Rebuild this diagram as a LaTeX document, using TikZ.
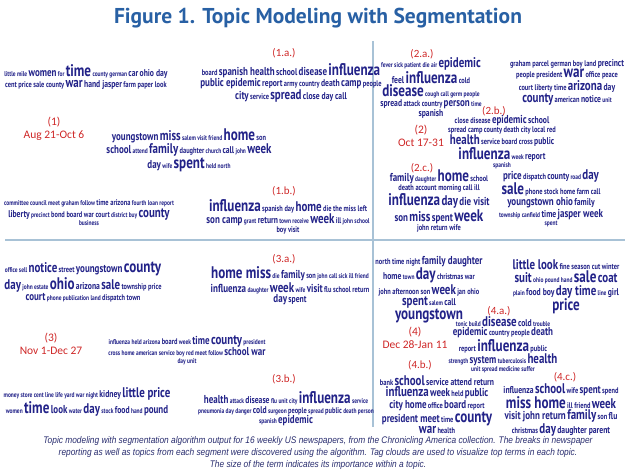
\documentclass[tikz,border=0pt]{standalone}
\usepackage{fontspec}
\setmainfont{PT Sans}
\newfontfamily\cloudfont[FakeStretch=0.78]{PT Sans}
\newfontfamily\datefont{Carlito}
\newfontfamily\capfont[FakeStretch=0.87]{Liberation Sans}
\definecolor{titleblue}{RGB}{40,96,164}
\definecolor{cloudblue}{RGB}{34,34,136}
\definecolor{datered}{RGB}{206,38,38}
\definecolor{rulegray}{RGB}{168,194,214}
\definecolor{capblue}{RGB}{40,44,110}
\newcommand\cla{\fontsize{7}{0}\selectfont}
\newcommand\clb{\fontsize{8.2}{0}\selectfont}
\newcommand\clc{\fontsize{9.8}{0}\selectfont}
\newcommand\cld{\fontsize{11.5}{0}\selectfont}
\newcommand\cle{\fontsize{14}{0}\selectfont}
\newcommand\clf{\fontsize{16.8}{0}\selectfont}
\newcommand\cloudset{\cloudfont\bfseries\fontsize{7}{0}\selectfont\setlength{\lineskip}{1pt}\relax}
\tikzset{
  cloud/.style={align=center, inner sep=0pt, text=cloudblue, font=\cloudset},
  tag/.style={inner sep=0pt, text=datered, font=\datefont\fontsize{11}{12}\selectfont},
  period/.style={align=center, inner sep=0pt, text=datered, font=\datefont\fontsize{11.5}{12.5}\selectfont},
  divider/.style={draw=rulegray, line width=1.2pt}
}
\begin{document}
\begin{tikzpicture}[x=1pt, y=-1pt]
\useasboundingbox (0,0) rectangle (635,476);

\node (title) at (318,18) {\fontsize{21.5}{23}\selectfont\bfseries\color{titleblue}Figure 1. Topic Modeling with Segmentation};

\coordinate (vtop) at (373,41);
\coordinate (vbot) at (373,427);
\coordinate (hleft) at (5,240);
\coordinate (hright) at (625,240);
\draw[divider] (vtop) -- (vbot);
\draw[divider] (hleft) -- (hright);

% segment 1
\node[period] (p1) at (54,129) {(1)\\Aug 21-Oct 6};
\node[cloud] (c1) at (86,77) {{\cla little mile} {\cld women} {\cla for} {\clf time} {\cla county german} {\clc car} {\clc ohio day}\\
  {\clb cent price sale county} {\cle war} {\clc hand jasper} {\clb farm paper look}};
\node[cloud] (c1m) at (189,150) {{\cld youngstown} {\cle miss} {\cla salem visit friend} {\clf home} {\clb son}\\
  {\cld school} {\cla attend} {\cle family} {\clb daughter} {\cla church} {\clc call} {\cla john} {\cle week}\\
  {\cld day} {\cla wife} {\clf spent} {\cla held north}};
\node[cloud] (c1l) at (89,213) {{\cla committee council meet graham follow} {\clb time arizona} {\cla fourth loan report}\\
  {\clc liberty} {\cla precinct} {\clb bond board war court} {\cla district buy} {\cle county}\\
  {\cla business}};
\node[tag] (t1a) at (284,53) {(1.a.)};
\node[cloud] (c1a) at (291,83) {{\clb board} {\cld spanish health} {\clc school} {\cld disease} {\clf influenza}\\
  {\cld public epidemic} {\clc report} {\clb army country} {\clc death} {\cld camp} {\clb people}\\
  {\cld city} {\clb service} {\cle spread} {\clc close day call}};
\node[tag] (t1b) at (284,191) {(1.b.)};
\node[cloud] (c1b) at (288,217) {{\clf influenza} {\clb spanish day} {\cle home} {\clb die the miss left}\\
  {\cld son camp} {\cla grant} {\clc return} {\cla town receive} {\cle week} {\clb ill} {\cla john school}\\
  {\clb boy visit}};

% segment 2
\node[tag] (t2a) at (422,54) {(2.a.)};
\node[cloud] (c2a) at (431,88) {{\cla fever sick patient die air} {\cle epidemic}\\
  {\clc feel} {\clf influenza} {\clb cold}\\
  {\clf disease} {\cla cough call germ people}\\
  {\clc spread} {\clb attack country} {\cld person} {\cla time}\\
  {\clc spanish}};
\node[cloud] (c2r) at (567,82) {{\clb graham parcel german boy land} {\clc precinct}\\
  {\clb people president} {\clf war} {\clb office peace}\\
  {\clb court liberty time} {\cle arizona} {\clc day}\\
  {\cle county} {\clb american} {\clc notice} {\cla unit}};
\node[period] (p2) at (421,136) {(2)\\Oct 17-31};
\node[tag] (t2b) at (494,111) {(2.b.)};
\node[cloud] (c2b) at (502,142) {{\clb close disease} {\cld epidemic} {\clc school}\\
  {\clb spread camp} {\clb county death city local red}\\
  {\cle health} {\clb service board cross} {\clc public}\\
  {\clf influenza} {\cla week} {\clc report}\\
  {\cla spanish}};
\node[tag] (t2c) at (422,168) {(2.c.)};
\node[cloud] (c2c) at (439,201) {{\cld family} {\cla daughter} {\clf home} {\clb school}\\
  {\clb death account morning call ill}\\
  {\clf influenza} {\cle day} {\cld die visit}\\
  {\cld son} {\cle miss} {\cld spent} {\clf week}\\
  {\clb john return wife}};
\node[cloud] (c2d) at (551,198) {{\cld price} {\clb dispatch} {\clc county} {\cla road} {\cle day}\\
  {\clf sale} {\clb phone stock home} {\clb farm} {\clb call}\\
  {\cld youngstown ohio} {\clc family}\\
  {\cla township canfield} {\clc time} {\cld jasper week}\\
  {\cla spent}};

% segment 3
\node[cloud] (c3) at (83,282) {{\cla office sell} {\cle notice} {\clb street} {\cld youngstown} {\clf county}\\
  {\cle day} {\cla john estate} {\clf ohio} {\clc arizona} {\cle sale} {\clb township price}\\
  {\cld court} {\cla phone publication land} {\clb dispatch town}};
\node[period] (p3) at (51,344) {(3)\\Nov 1-Dec 27};
\node[cloud] (c3m) at (187,350) {{\cla influenza held arizona} {\clb board} {\cla week} {\cld time} {\cle county} {\cla president}\\
  {\cla cross home american service boy red meet follow} {\cld school war}\\
  {\cla day unit}};
\node[tag] (t3a) at (284,259) {(3.a.)};
\node[cloud] (c3a) at (290,286) {{\clf home miss} {\cla die} {\cld family} {\clb son} {\cla john call sick ill friend}\\
  {\cld influenza} {\cla daughter} {\cle week} {\cla wife} {\cld visit} {\clb flu school return}\\
  {\cld day} {\clc spent}};
\node[cloud] (c3l) at (87,402) {{\cla money store cent line life yard war night} {\clc kidney} {\cle little price}\\
  {\cla women} {\clf time} {\cld look} {\cla water} {\cle day} {\cla stock} {\clc food} {\cla hand} {\cld pound}};
\node[tag] (t3b) at (284,379) {(3.b.)};
\node[cloud] (c3b) at (286,409) {{\cld health} {\cla attack} {\clc disease} {\cla flu unit city} {\clf influenza} {\cla service}\\
  {\cla pneumonia day danger} {\clc cold} {\cla surgeon} {\clb people} {\cla spread} {\clb public} {\cla death person}\\
  {\cla spanish} {\cld epidemic}};

% segment 4
\node[cloud] (c4) at (429,290) {{\clb north time night} {\cld family daughter}\\
  {\clc home} {\cla town} {\clf day} {\clb christmas war}\\
  {\clb john afternoon son} {\cle week} {\clb jan ohio}\\
  {\cle spent} {\cla salem} {\clc call}\\
  {\clf youngstown}};
\node[cloud] (c4r) at (566,287) {{\cle little look} {\clb fine season cut winter}\\
  {\cle suit} {\cla ohio pound hand} {\clf sale} {\cle coat}\\
  {\cla plain} {\clc food boy} {\cle day time} {\cla line} {\clc girl}\\
  {\clf price}};
\node[tag] (t4a) at (499,311) {(4.a.)};
\node[cloud] (c4a) at (503,345) {{\cla tonic build} {\cle disease} {\clc cold} {\cla trouble}\\
  {\cld epidemic} {\clb country people} {\cld death}\\
  {\clb report} {\clf influenza} {\clb public}\\
  {\cla strength} {\cld system} {\cla tuberculosis} {\cle health}\\
  {\cla unit spread medicine suffer}};
\node[period] (p4) at (415,338) {(4)\\Dec 28-Jan 11};
\node[tag] (t4b) at (420,365) {(4.b.)};
\node[cloud] (c4b) at (437,405) {{\clb bank} {\cle school} {\clc service attend return}\\
  {\cle influenza} {\cld week} {\clb held} {\cld public}\\
  {\cld city home} {\clb office} {\cld board} {\clb report}\\
  {\cld president meet} {\clb time} {\clf county}\\
  {\cle war} {\clb health}};
\node[tag] (t4c) at (565,377) {(4.c.)};
\node[cloud] (c4c) at (561,410) {{\clc influenza} {\cle school} {\clb wife} {\cld spent} {\clb spend}\\
  {\clf miss home} {\clb ill friend} {\cle week}\\
  {\cld visit john return} {\cle family} {\clb son} {\clc flu}\\
  {\clb christmas} {\cle day} {\clc daughter parent}};

\node[align=center, inner sep=0pt, text=capblue, font=\capfont\itshape\fontsize{9.6}{12}\selectfont] (caption) at (318,453)
  {Topic modeling with segmentation algorithm output for 16 weekly US newspapers, from the Chronicling America collection. The breaks in newspaper\\
   reporting as well as topics from each segment were discovered using the algorithm. Tag clouds are used to visualize top terms in each topic.\\
   The size of the term indicates its importance within a topic.};
\end{tikzpicture}
\end{document}
